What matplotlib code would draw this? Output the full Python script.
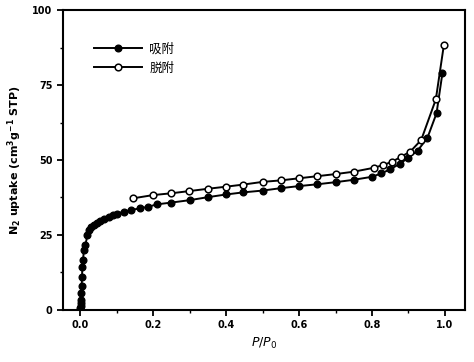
import matplotlib
matplotlib.use("Agg")
import matplotlib.pyplot as plt
from matplotlib.ticker import MultipleLocator

# adsorption branch (filled)
ads_x = [0.0005, 0.001, 0.0015, 0.002, 0.003, 0.004, 0.005, 0.006, 0.008, 0.010,
         0.014, 0.020, 0.025, 0.031, 0.037, 0.045, 0.055, 0.066, 0.078, 0.090,
         0.100, 0.119, 0.140, 0.164, 0.187, 0.210, 0.250, 0.300, 0.350, 0.400,
         0.447, 0.500, 0.550, 0.600, 0.650, 0.700, 0.750, 0.800, 0.825, 0.850,
         0.877, 0.900, 0.925, 0.952, 0.977, 0.993]
ads_y = [0.5, 1.2, 2.2, 3.3, 5.6, 8.0, 11.0, 14.4, 16.7, 20.0,
         21.5, 25.0, 26.7, 27.6, 28.3, 29.0, 29.7, 30.3, 30.9, 31.5,
         32.0, 32.8, 33.3, 33.9, 34.4, 35.2, 35.8, 36.6, 37.6, 38.5,
         39.2, 39.8, 40.6, 41.3, 41.9, 42.6, 43.4, 44.4, 45.5, 46.9,
         48.8, 50.8, 53.1, 57.4, 65.6, 78.9]

# desorption branch (open)
des_x = [0.144, 0.200, 0.250, 0.297, 0.350, 0.400, 0.447, 0.500, 0.550, 0.600,
         0.650, 0.700, 0.750, 0.805, 0.830, 0.855, 0.880, 0.905, 0.935, 0.975,
         0.997]
des_y = [37.2, 38.3, 38.9, 39.6, 40.4, 41.1, 41.8, 42.7, 43.2, 43.9,
         44.6, 45.3, 46.1, 47.4, 48.3, 49.4, 51.1, 52.8, 56.7, 70.2,
         88.3]

plt.rcParams["font.family"] = ["DejaVu Sans", "Noto Sans CJK SC"]

fig = plt.figure(figsize=(4.74, 3.62), dpi=100)
ax = fig.add_axes([0.133, 0.144, 0.848, 0.828])

ax.plot(ads_x, ads_y, "-o", color="black", lw=1.4, ms=4.8,
        mfc="black", mec="black", label="吸附")
ax.plot(des_x, des_y, "-o", color="black", lw=1.4, ms=4.8,
        mfc="white", mec="black", mew=1.1, label="脱附")

ax.set_xlim(-0.047, 1.055)
ax.set_ylim(0, 100)
ax.xaxis.set_major_locator(MultipleLocator(0.2))
ax.xaxis.set_minor_locator(MultipleLocator(0.1))
ax.yaxis.set_major_locator(MultipleLocator(25))
ax.yaxis.set_minor_locator(MultipleLocator(12.5))
ax.xaxis.set_major_formatter(plt.FuncFormatter(lambda v, p: f"{v:.1f}"))
ax.tick_params(which="major", direction="out", length=4, width=1.3,
               labelsize=7)
ax.tick_params(which="minor", direction="out", length=2.5, width=1.0)
for lab in ax.get_xticklabels() + ax.get_yticklabels():
    lab.set_fontweight("bold")
for s in ax.spines.values():
    s.set_linewidth(1.5)

ax.set_xlabel(r"$\mathbf{\it{P/P}_0}$", fontsize=9, labelpad=4)
ax.set_ylabel(r"N$_\mathbf{2}$ uptake (cm$^\mathbf{3}$g$^\mathbf{-1}$ STP)",
              fontsize=8, fontweight="bold", labelpad=6)

ax.legend(loc="upper left", bbox_to_anchor=(0.05, 0.93), frameon=False,
          handlelength=3.8, labelspacing=0.5, handletextpad=0.6,
          prop={"family": ["Noto Sans CJK SC", "DejaVu Sans"], "size": 9})

fig.savefig("out.png", dpi=100)
